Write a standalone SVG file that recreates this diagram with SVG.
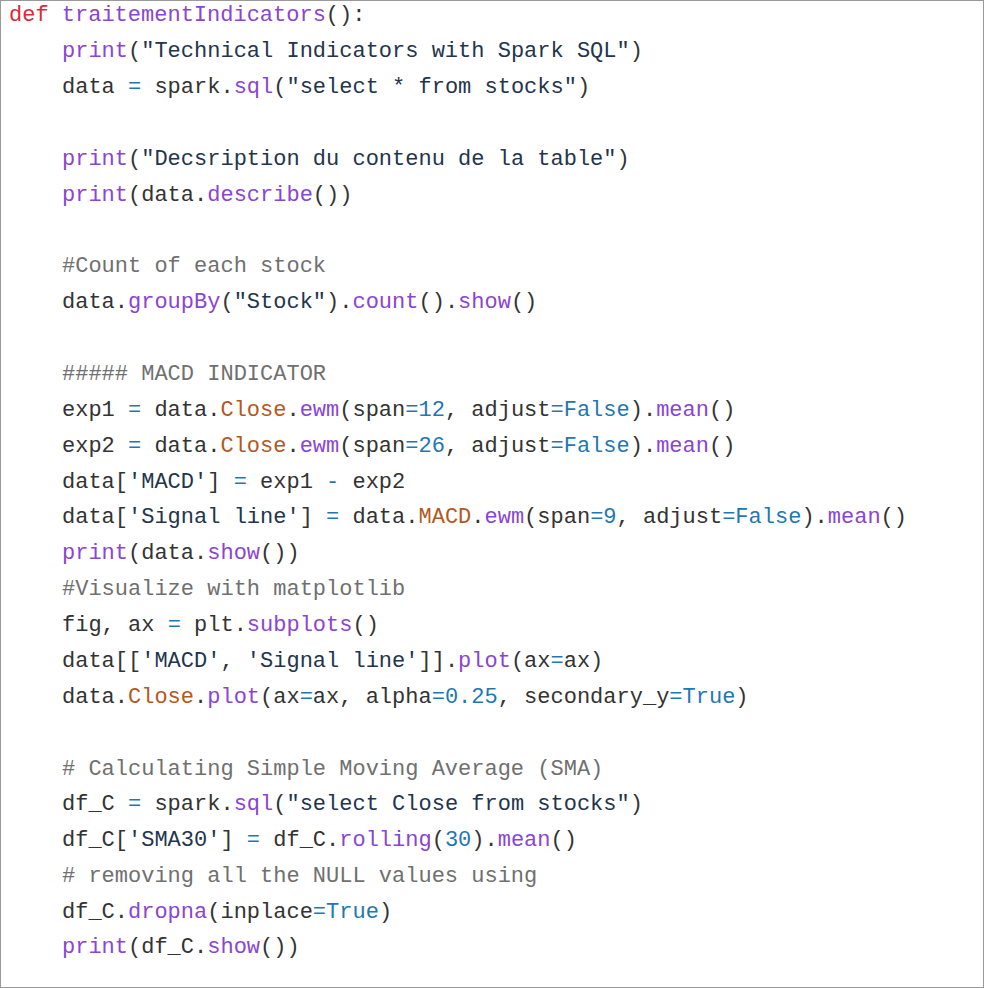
<svg xmlns="http://www.w3.org/2000/svg" width="984" height="988" viewBox="0 0 984 988">
<style>
text{font-family:"Liberation Mono","DejaVu Sans Mono",monospace;font-size:22px;fill:#333;white-space:pre}
.k{fill:#d92b3a}.f{fill:#8a45d4}.a{fill:#b3591c}.n{fill:#1f77b4}.c{fill:#707070}.s{fill:#23354d}
</style>
<rect x="0.5" y="0.5" width="983" height="987" fill="#fff" stroke="#9a9a9a"/>
<g id="code">
<text x="9" y="21"><tspan class="k">def</tspan> <tspan class="f">traitementIndicators</tspan>():</text>
<text x="62" y="57"><tspan class="f">print</tspan>(<tspan class="s">"Technical Indicators with Spark SQL"</tspan>)</text>
<text x="62" y="93">data <tspan class="n">=</tspan> spark.<tspan class="f">sql</tspan>(<tspan class="s">"select * from stocks"</tspan>)</text>
<text x="62" y="165"><tspan class="f">print</tspan>(<tspan class="s">"Decsription du contenu de la table"</tspan>)</text>
<text x="62" y="201"><tspan class="f">print</tspan>(data.<tspan class="f">describe</tspan>())</text>
<text x="62" y="272" class="c">#Count of each stock</text>
<text x="62" y="308">data.<tspan class="f">groupBy</tspan>(<tspan class="s">"Stock"</tspan>).<tspan class="f">count</tspan>().<tspan class="f">show</tspan>()</text>
<text x="62" y="380" class="c">##### MACD INDICATOR</text>
<text x="62" y="416">exp1 <tspan class="n">=</tspan> data.<tspan class="a">Close</tspan>.<tspan class="f">ewm</tspan>(span<tspan class="n">=12</tspan>, adjust<tspan class="n">=False</tspan>).<tspan class="f">mean</tspan>()</text>
<text x="62" y="452">exp2 <tspan class="n">=</tspan> data.<tspan class="a">Close</tspan>.<tspan class="f">ewm</tspan>(span<tspan class="n">=26</tspan>, adjust<tspan class="n">=False</tspan>).<tspan class="f">mean</tspan>()</text>
<text x="62" y="488">data[<tspan class="s">'MACD'</tspan>] <tspan class="n">=</tspan> exp1 <tspan class="n">-</tspan> exp2</text>
<text x="62" y="523">data[<tspan class="s">'Signal line'</tspan>] <tspan class="n">=</tspan> data.<tspan class="a">MACD</tspan>.<tspan class="f">ewm</tspan>(span<tspan class="n">=9</tspan>, adjust<tspan class="n">=False</tspan>).<tspan class="f">mean</tspan>()</text>
<text x="62" y="559"><tspan class="f">print</tspan>(data.<tspan class="f">show</tspan>())</text>
<text x="62" y="595" class="c">#Visualize with matplotlib</text>
<text x="62" y="631">fig, ax <tspan class="n">=</tspan> plt.<tspan class="f">subplots</tspan>()</text>
<text x="62" y="667">data[[<tspan class="s">'MACD'</tspan>, <tspan class="s">'Signal line'</tspan>]].<tspan class="f">plot</tspan>(ax<tspan class="n">=</tspan>ax)</text>
<text x="62" y="703">data.<tspan class="a">Close</tspan>.<tspan class="f">plot</tspan>(ax<tspan class="n">=</tspan>ax, alpha<tspan class="n">=0.25</tspan>, secondary_y<tspan class="n">=True</tspan>)</text>
<text x="62" y="775" class="c"># Calculating Simple Moving Average (SMA)</text>
<text x="62" y="810">df_C <tspan class="n">=</tspan> spark.<tspan class="f">sql</tspan>(<tspan class="s">"select Close from stocks"</tspan>)</text>
<text x="62" y="846">df_C[<tspan class="s">'SMA30'</tspan>] <tspan class="n">=</tspan> df_C.<tspan class="f">rolling</tspan>(<tspan class="n">30</tspan>).<tspan class="f">mean</tspan>()</text>
<text x="62" y="882" class="c"># removing all the NULL values using</text>
<text x="62" y="918">df_C.<tspan class="f">dropna</tspan>(inplace<tspan class="n">=True</tspan>)</text>
<text x="62" y="953"><tspan class="f">print</tspan>(df_C.<tspan class="f">show</tspan>())</text>
</g>
</svg>
